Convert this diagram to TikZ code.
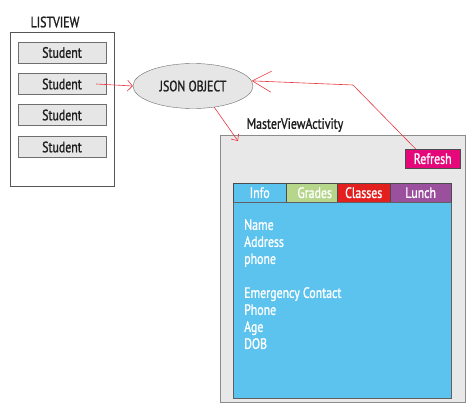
\documentclass[tikz,border=0pt]{standalone}
\usepackage{fontspec}
\setmainfont[FakeStretch=0.79,FakeBold=1.2]{PT Sans}
\usepackage{tikz}
\usetikzlibrary{positioning}
\usetikzlibrary{shapes.geometric,arrows.meta}

\definecolor{inkdark}{HTML}{1E1E1E}
\definecolor{edgegray}{HTML}{6E6E6E}
\definecolor{boxgray}{HTML}{E6E6E6}
\definecolor{panelgray}{HTML}{E8E8E8}
\definecolor{linkred}{HTML}{E8373F}
\definecolor{infoblue}{HTML}{5BC3EE}
\definecolor{gradesgreen}{HTML}{B5D68B}
\definecolor{classesred}{HTML}{E2201F}
\definecolor{lunchpurple}{HTML}{9B509E}
\definecolor{refreshpink}{HTML}{E4087B}

\begin{document}
\begin{tikzpicture}[x=1pt,y=-1pt,
	every node/.style={font=\fontsize{15}{17}\selectfont, text=inkdark},
	student/.style={draw=edgegray, fill=boxgray, minimum width=88pt, minimum height=21pt, inner sep=0pt},
	tabbox/.style={draw=inkdark!80, line width=0.4pt, minimum height=19pt, inner sep=0pt, anchor=north west, text=white},
	link/.style={draw=linkred, line width=0.6pt},
]

	\useasboundingbox (0,0) rectangle (474,418);

	% the list on the left
	\node (listlabel) at (55,22) {LISTVIEW};
	\node (listview) [draw=inkdark!75, line width=0.8pt, minimum width=104pt, minimum height=154pt, anchor=north west] at (10,32) {};

	\foreach \i/\y in {1/52.5, 2/84, 3/115, 4/147}
		\node[student] (s\i) at (62,\y) {Student};

	% the object in the middle
	\node (json) [ellipse, draw=edgegray, fill=boxgray, minimum width=120pt, minimum height=45pt, inner sep=0pt] at (193,86) {JSON OBJECT};

	% the activity window
	\node (masterlabel) at (295,125) {MasterViewActivity};
	\node (master) [draw=edgegray!80, fill=panelgray, minimum width=245pt, minimum height=267pt, inner sep=0pt, anchor=north west] at (220,135) {};

	\node (refresh) [draw=inkdark!80, fill=refreshpink, text=white, minimum width=55pt, minimum height=19pt, inner sep=0pt, anchor=north west] at (405,149) {Refresh};

	% tabs:
	\node (info)    [tabbox, fill=infoblue,    minimum width=53pt] at (233,183) {Info\hspace{9pt}};
	\node (grades)  [tabbox, fill=gradesgreen, minimum width=51pt] at (286,183) {\hspace{6pt}Grades};
	\node (classes) [tabbox, fill=classesred,  minimum width=53pt] at (337,183) {Classes};
	\node (lunch)   [tabbox, fill=lunchpurple, minimum width=61pt] at (390,183) {Lunch\hspace{5pt}};

	\node (panel) [draw=inkdark!70, line width=0.5pt, fill=infoblue, minimum width=218pt, minimum height=196pt, inner sep=0pt, anchor=north west] at (233,202) {};

	\node (fields) [text=white, align=left, anchor=north west, inner sep=0pt] at (244,219)
		{Name\\Address\\phone\\[17pt]Emergency Contact\\Phone\\Age\\DOB};

	%%%%%%%%%%%%%%%%%%%%%%%%%%%%%%%%%%%%%%%%%%%%%%%%%%%%%%%%%
	% red links
	\coordinate (bend) at (353,85);

	\draw[link, -{Straight Barb[length=5pt,width=11pt]}] ([xshift=-10pt]s2.east) -- (json.west);

	\draw[link, -{Straight Barb[length=5pt,width=9pt]}] (json.-45) -- ([xshift=18pt,yshift=-6pt]master.north west);

	%the long one comes back from the button
	\draw[link, -{Straight Barb[length=19pt,width=21pt]}] ([xshift=-17pt]refresh.north) -- (bend) -- (json.5);

\end{tikzpicture}
\end{document}
